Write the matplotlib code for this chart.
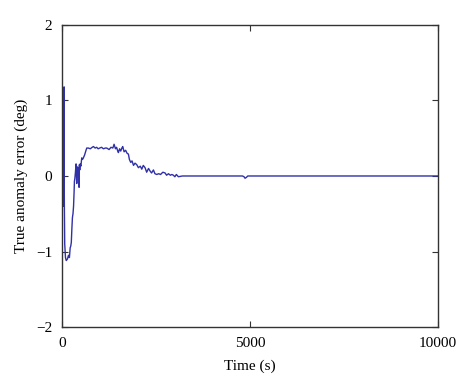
import matplotlib
matplotlib.use('Agg')
import matplotlib.pyplot as plt

plt.rcParams['font.family'] = 'Liberation Serif'

# true anomaly error (time in s, error in deg)
time_s = [0, 5, 10, 20, 40, 50, 53, 56, 60, 70, 90, 110, 142, 170, 195, 215, 230, 245,
          260, 275, 290, 305, 320, 328, 340, 355, 372, 390, 410, 430, 445, 452, 460,
          470, 480, 500, 523, 545, 567, 600, 630, 656, 700, 750, 800, 833, 880, 920,
          960, 1000, 1050, 1100, 1150, 1188, 1250, 1300, 1350, 1383, 1420, 1450, 1480,
          1498, 1530, 1560, 1590, 1613, 1650, 1690, 1730, 1764, 1790, 1826, 1860, 1900,
          1940, 1986, 2030, 2080, 2120, 2160, 2207, 2250, 2300, 2340, 2380, 2430, 2470,
          2518, 2570, 2620, 2680, 2739, 2780, 2830, 2880, 2920, 2960, 3000, 3040, 3094,
          3200, 4700, 4800, 4840, 4867, 4900, 4940, 5000, 10000]
error_deg = [1.70, 1.0, 0.45, -0.35, -0.40, 0.30, 1.18, 0.10, -0.38, -0.90, -1.08, -1.12,
             -1.10, -1.05, -1.08, -0.95, -0.93, -0.88, -0.70, -0.55, -0.50, -0.40, -0.20,
             -0.07, -0.03, 0.05, 0.16, -0.10, 0.12, 0.05, 0.10, -0.15, 0.15, 0.08, 0.16,
             0.13, 0.24, 0.22, 0.24, 0.28, 0.33, 0.37, 0.37, 0.36, 0.38, 0.39, 0.37, 0.38,
             0.36, 0.37, 0.38, 0.36, 0.37, 0.37, 0.35, 0.38, 0.37, 0.42, 0.36, 0.38, 0.33,
             0.31, 0.36, 0.33, 0.37, 0.39, 0.32, 0.34, 0.30, 0.29, 0.22, 0.18, 0.20, 0.14,
             0.17, 0.15, 0.11, 0.13, 0.09, 0.14, 0.11, 0.05, 0.10, 0.066, 0.04, 0.08, 0.03,
             0.02, 0.03, 0.02, 0.05, 0.04, 0.01, 0.03, 0.01, 0.02, 0.01, -0.01, 0.02,
             -0.01, 0.0, 0.0, 0.0, -0.01, -0.03, -0.02, 0.0, 0.0, 0.0]

x_ticks = [0, 5000, 10000]
y_ticks = [-2, -1, 0, 1, 2]

fig = plt.figure(figsize=(4.74, 3.90), dpi=100)
ax = fig.add_axes([0.131, 0.1615, 0.793, 0.7745])
ax.plot(time_s, error_deg, color='#3030a8', lw=1.0)

ax.set_xlim(0, 10000)
ax.set_ylim(-2, 2)
ax.set_xticks(x_ticks)
ax.set_yticks(y_ticks)
ax.set_yticklabels(['\u22122', '\u22121', '0', '1', '2'])
ax.tick_params(direction='in', top=True, right=True, labelsize=11, length=4,
               color='#333333', pad=7)
for s in ax.spines.values():
    s.set_color('#333333')
    s.set_linewidth(1.0)

ax.set_xlabel('Time (s)', fontsize=11, labelpad=7)
ax.set_ylabel('True anomaly error (deg)', fontsize=11, labelpad=6)

fig.savefig('out.png', dpi=100)
